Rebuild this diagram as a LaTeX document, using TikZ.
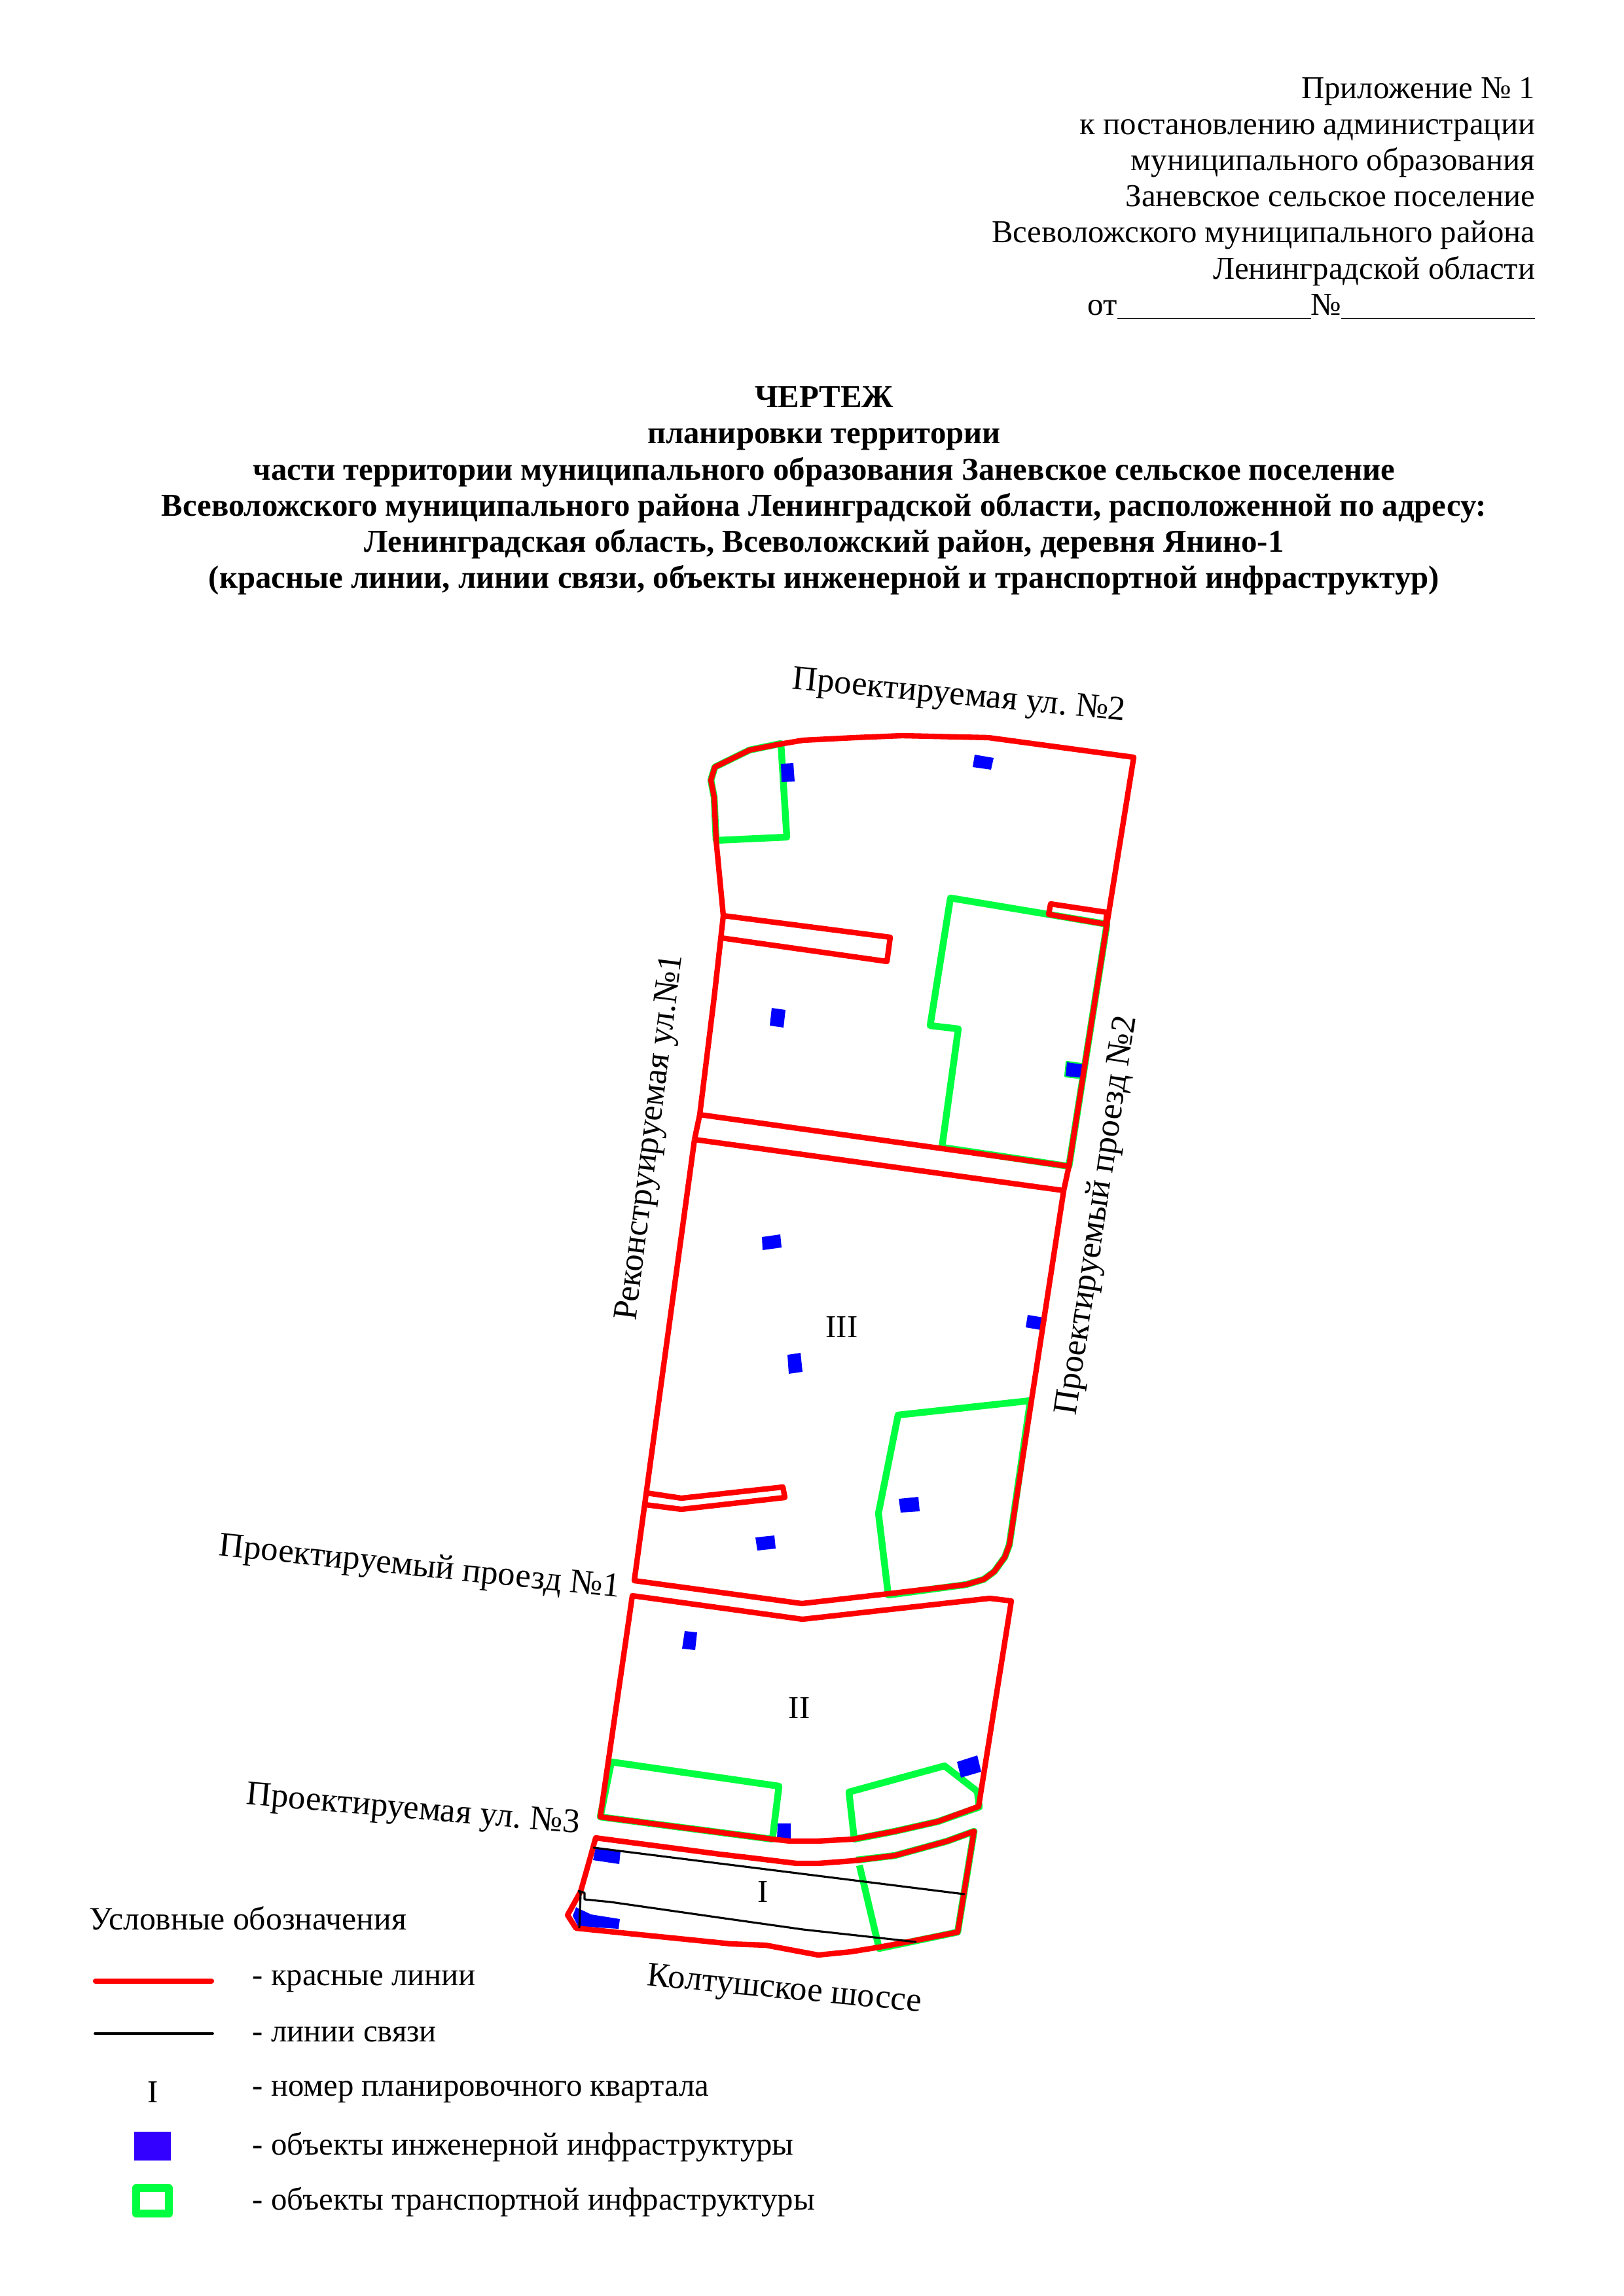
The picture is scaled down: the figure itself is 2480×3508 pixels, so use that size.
\documentclass[tikz,border=0pt]{standalone}
\usepackage{fontspec}
\setmainfont{Liberation Serif}
\usepackage{tikz}
\frenchspacing
\definecolor{planred}{HTML}{FF0000}
\definecolor{plangreen}{HTML}{00FF40}
\definecolor{planblue}{HTML}{0000FF}
\definecolor{keyblue}{HTML}{3300FF}
\tikzset{
    redline/.style={draw=planred, line width=2pt, line join=round},
    greenline/.style={draw=plangreen, line width=2.5pt, line join=round},
    linkline/.style={draw=black, line width=0.75pt, line join=round, line cap=round},
    textline/.style={font=\fontsize{11.7}{13.25}\selectfont, inner sep=0pt},
    streetname/.style={font=\fontsize{12.6}{14}\selectfont, inner sep=0pt},
    keytext/.style={font=\fontsize{11.7}{13}\selectfont, inner sep=0pt, anchor=base west},
}
\begin{document}
\begin{tikzpicture}[x = 0.24pt, y = -0.24pt]
    \useasboundingbox (0,0) rectangle (2480,3508);
    % header
    \node[textline, anchor=north east, align=right] (header) at (2346,117)
        {Приложение № 1\\к постановлению администрации\\муниципального образования\\Заневское сельское поселение\\Всеволожского муниципального района\\Ленинградской области\\от\rule[-1.5pt]{71pt}{0.4pt}№\rule[-1.5pt]{71pt}{0.4pt}};
    \node[textline, anchor=north, align=center, font=\fontsize{11.7}{13.25}\selectfont\bfseries] (title) at (1259,590)
        {ЧЕРТЕЖ\\планировки территории\\части территории муниципального образования Заневское сельское поселение\\Всеволожского муниципального района Ленинградской области, расположенной по адресу:\\Ленинградская область, Всеволожский район, деревня Янино-1\\(красные линии, линии связи, объекты инженерной и транспортной инфраструктур)};
    % transport objects
    \draw[greenline] (1193,1136)--(1202,1279)--(1094,1284)--(1091,1218)--(1086,1192)--(1092,1172)--(1145,1146)--cycle;
    \draw[greenline] (1452,1372)--(1691,1412)--(1633,1782)--(1439,1753)--(1464,1572)--(1421,1567)--cycle;
    \draw[greenline] (1574,2140)--(1372,2162)--(1342,2312)--(1357,2437)--(1476,2421)--(1503,2413)--(1519,2401)--(1535,2379)--(1542,2360)--cycle;
    \draw[greenline] (934,2692)--(1190,2729)--(1180,2810)--(917,2776)--cycle;
    \draw[greenline] (1297,2738)--(1443,2698)--(1493,2737)--(1496,2761)--(1433,2783)--(1367,2798)--(1305,2810)--cycle;
    \draw[greenline] (1308,2842)--(1367,2835)--(1447,2813)--(1488,2798)--(1463,2952)--(1343,2977)--(1313,2850);
    \draw[greenline, line width=1pt] (1630,1623)--(1658,1627)--(1656,1647)--(1628,1644)--cycle;
    % engineering objects
    \foreach \a/\b/\c/\d/\e/\f/\g/\h in {
        1193/1167/1212/1166/1214/1194/1194/1195, 1489/1153/1518/1158/1514/1176/1486/1172,
        1179/1540/1200/1543/1197/1570/1176/1567, 1630/1623/1658/1627/1656/1647/1628/1644,
        1164/1890/1192/1886/1194/1906/1165/1910, 1203/2070/1223/2067/1226/2096/1205/2099,
        1570/2009/1594/2013/1590/2032/1567/2028, 1373/2290/1403/2287/1405/2309/1376/2311,
        1154/2349/1183/2346/1185/2366/1157/2369, 1046/2492/1065/2494/1062/2521/1042/2519,
        1462/2692/1493/2682/1499/2707/1468/2716, 1188/2786/1208/2786/1208/2810/1187/2810,
        910/2822/948/2828/946/2848/906/2842}
        \path[fill=planblue] (\a,\b)--(\c,\d)--(\e,\f)--(\g,\h)--cycle;
    \path[fill=planblue] (880,2914)--(903,2925)--(947,2932)--(945,2947)--(883,2943)--(875,2927)--cycle;
    % red lines
    \draw[redline] (1061,1741)--(1069,1703)--(1091,1524)--(1105,1399)--(1094,1284)--(1091,1218)--(1086,1192)--(1092,1172)--(1145,1146)--(1191,1137)--(1227,1131)--(1306,1127)--(1378,1124)--(1510,1127)--(1732,1157)--(1691,1412)--(1633,1782)--(1625,1819);
    \draw[redline] (1069,1703)--(1633,1782);
    \draw[redline] (1105,1399)--(1360,1432)--(1355,1469)--(1102,1433);
    \draw[redline] (1605,1381)--(1691,1394)--(1689,1412)--(1602,1397)--cycle;
    \draw[redline] (1061,1741)--(1625,1819);
    \draw[redline] (1625,1819)--(1542,2360)--(1535,2379)--(1519,2401)--(1503,2413)--(1476,2421)--(1357,2435)--(1225,2450)--(969,2415)--(1061,1741);
    \draw[redline] (988,2281)--(1041,2289)--(1196,2272)--(1199,2288)--(1041,2306)--(986,2299);
    \draw[redline] (966,2438)--(1226,2474)--(1512,2442)--(1545,2446)--(1495,2760)--(1433,2783)--(1367,2798)--(1303,2810)--(1248,2813)--(1207,2813)--(1180,2810)--(917,2776)--cycle;
    \draw[redline] (910,2808)--(1100,2833)--(1143,2838)--(1217,2847)--(1250,2847)--(1303,2843)--(1367,2835)--(1447,2813)--(1488,2798)--(1463,2952)--(1397,2965)--(1343,2975)--(1300,2982)--(1250,2987)--(1170,2972)--(1117,2970)--(880,2946)--(867,2926)--(887,2890)--(902,2837)--cycle;
    % communication lines
    \draw[linkline] (907,2823)--(1473,2894);
    \draw[linkline] (885,2945)--(887,2893)--(884,2889)--(893,2892)--(893,2902)--(933,2906)--(1100,2930)--(1227,2948)--(1399,2967);
    % block numbers
    \node[textline] (blockI) at (1166,2891) {I};
    \node[textline] (blockII) at (1221,2610) {II};
    \node[textline] (blockIII) at (1286,2028) {III};
    % street names
    \node[streetname, rotate=-5.5] (street2) at (1465,1065) {Проектируемая ул. №2};
    \node[streetname, rotate=82.8] (recon1) at (995,1738) {Реконструируемая ул.№1};
    \node[streetname, rotate=81.4] (pass2) at (1677,1857) {Проектируемый проезд №2};
    \node[streetname, rotate=-6] (pass1) at (641,2396) {Проектируемый проезд №1};
    \node[streetname, rotate=-5] (street3) at (631,2767) {Проектируемая ул. №3};
    \node[streetname, rotate=-5.5] (koltushi) at (1198,3042) {Колтушское шоссе};
    % legend
    \node[keytext, font=\fontsize{11.95}{13}\selectfont] (legend) at (136,2948) {Условные обозначения};
    \draw[redline, line cap=round] (146,3027)--(323,3027);
    \draw[linkline, line width=0.9pt] (145,3107)--(325,3107);
    \node[textline] (keyI) at (234,3197) {I};
    \path[fill=keyblue] (205,3257) rectangle (261,3301);
    \draw[greenline, line width=2.9pt] (208,3343) rectangle (258,3382);
    \node[keytext] (keyred) at (385,3033) {- красные линии};
    \node[keytext] (keylink) at (385,3119) {- линии связи};
    \node[keytext] (keynum) at (385,3202) {- номер планировочного квартала};
    \node[keytext] (keyeng) at (385,3292) {- объекты инженерной инфраструктуры};
    \node[keytext] (keytrans) at (385,3376) {- объекты транспортной инфраструктуры};
\end{tikzpicture}
\end{document}
